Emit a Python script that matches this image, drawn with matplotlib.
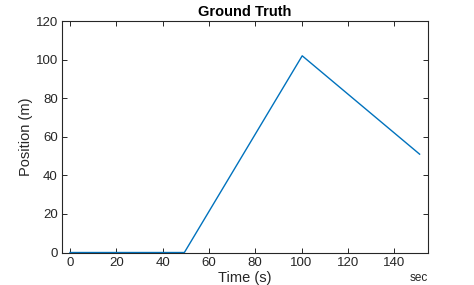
import matplotlib
matplotlib.use("Agg")
import matplotlib.pyplot as plt

# ground truth trajectory (time in s, position in m)
time_s = [0, 49.4, 100.3, 151.0]
position_m = [0, 0, 102, 51]

x_ticks = [0, 20, 40, 60, 80, 100, 120, 140]
y_ticks = [0, 20, 40, 60, 80, 100, 120]

plt.rcParams['font.family'] = ['Liberation Sans', 'DejaVu Sans']

fig = plt.figure(figsize=(4.74, 2.85), dpi=100)
ax = fig.add_axes([0.1308, 0.114, 0.772, 0.812])

ax.plot(time_s, position_m, color='#0072BD', linewidth=1.0)

ax.set_xlim(-3.45, 154.6)
ax.set_ylim(0, 120)
ax.set_xticks(x_ticks)
ax.set_yticks(y_ticks)

dark = '#262626'
for s in ax.spines.values():
    s.set_color(dark)
    s.set_linewidth(0.8)
ax.tick_params(direction='in', top=True, right=True, length=3.5, width=0.7,
               colors=dark, labelsize=9.5, pad=3)

ax.set_title('Ground Truth', fontsize=10.5, fontweight='bold', color='black', pad=4)
ax.set_xlabel('Time (s)', fontsize=10.5, color=dark, labelpad=1.5)
ax.set_ylabel('Position (m)', fontsize=10.5, color=dark)
ax.yaxis.set_label_coords(-0.078, 0.5)
ax.text(1.0, -0.108, 'sec', transform=ax.transAxes, ha='right', va='center',
        fontsize=8.5, color=dark)

plt.savefig('out.png', dpi=100)
